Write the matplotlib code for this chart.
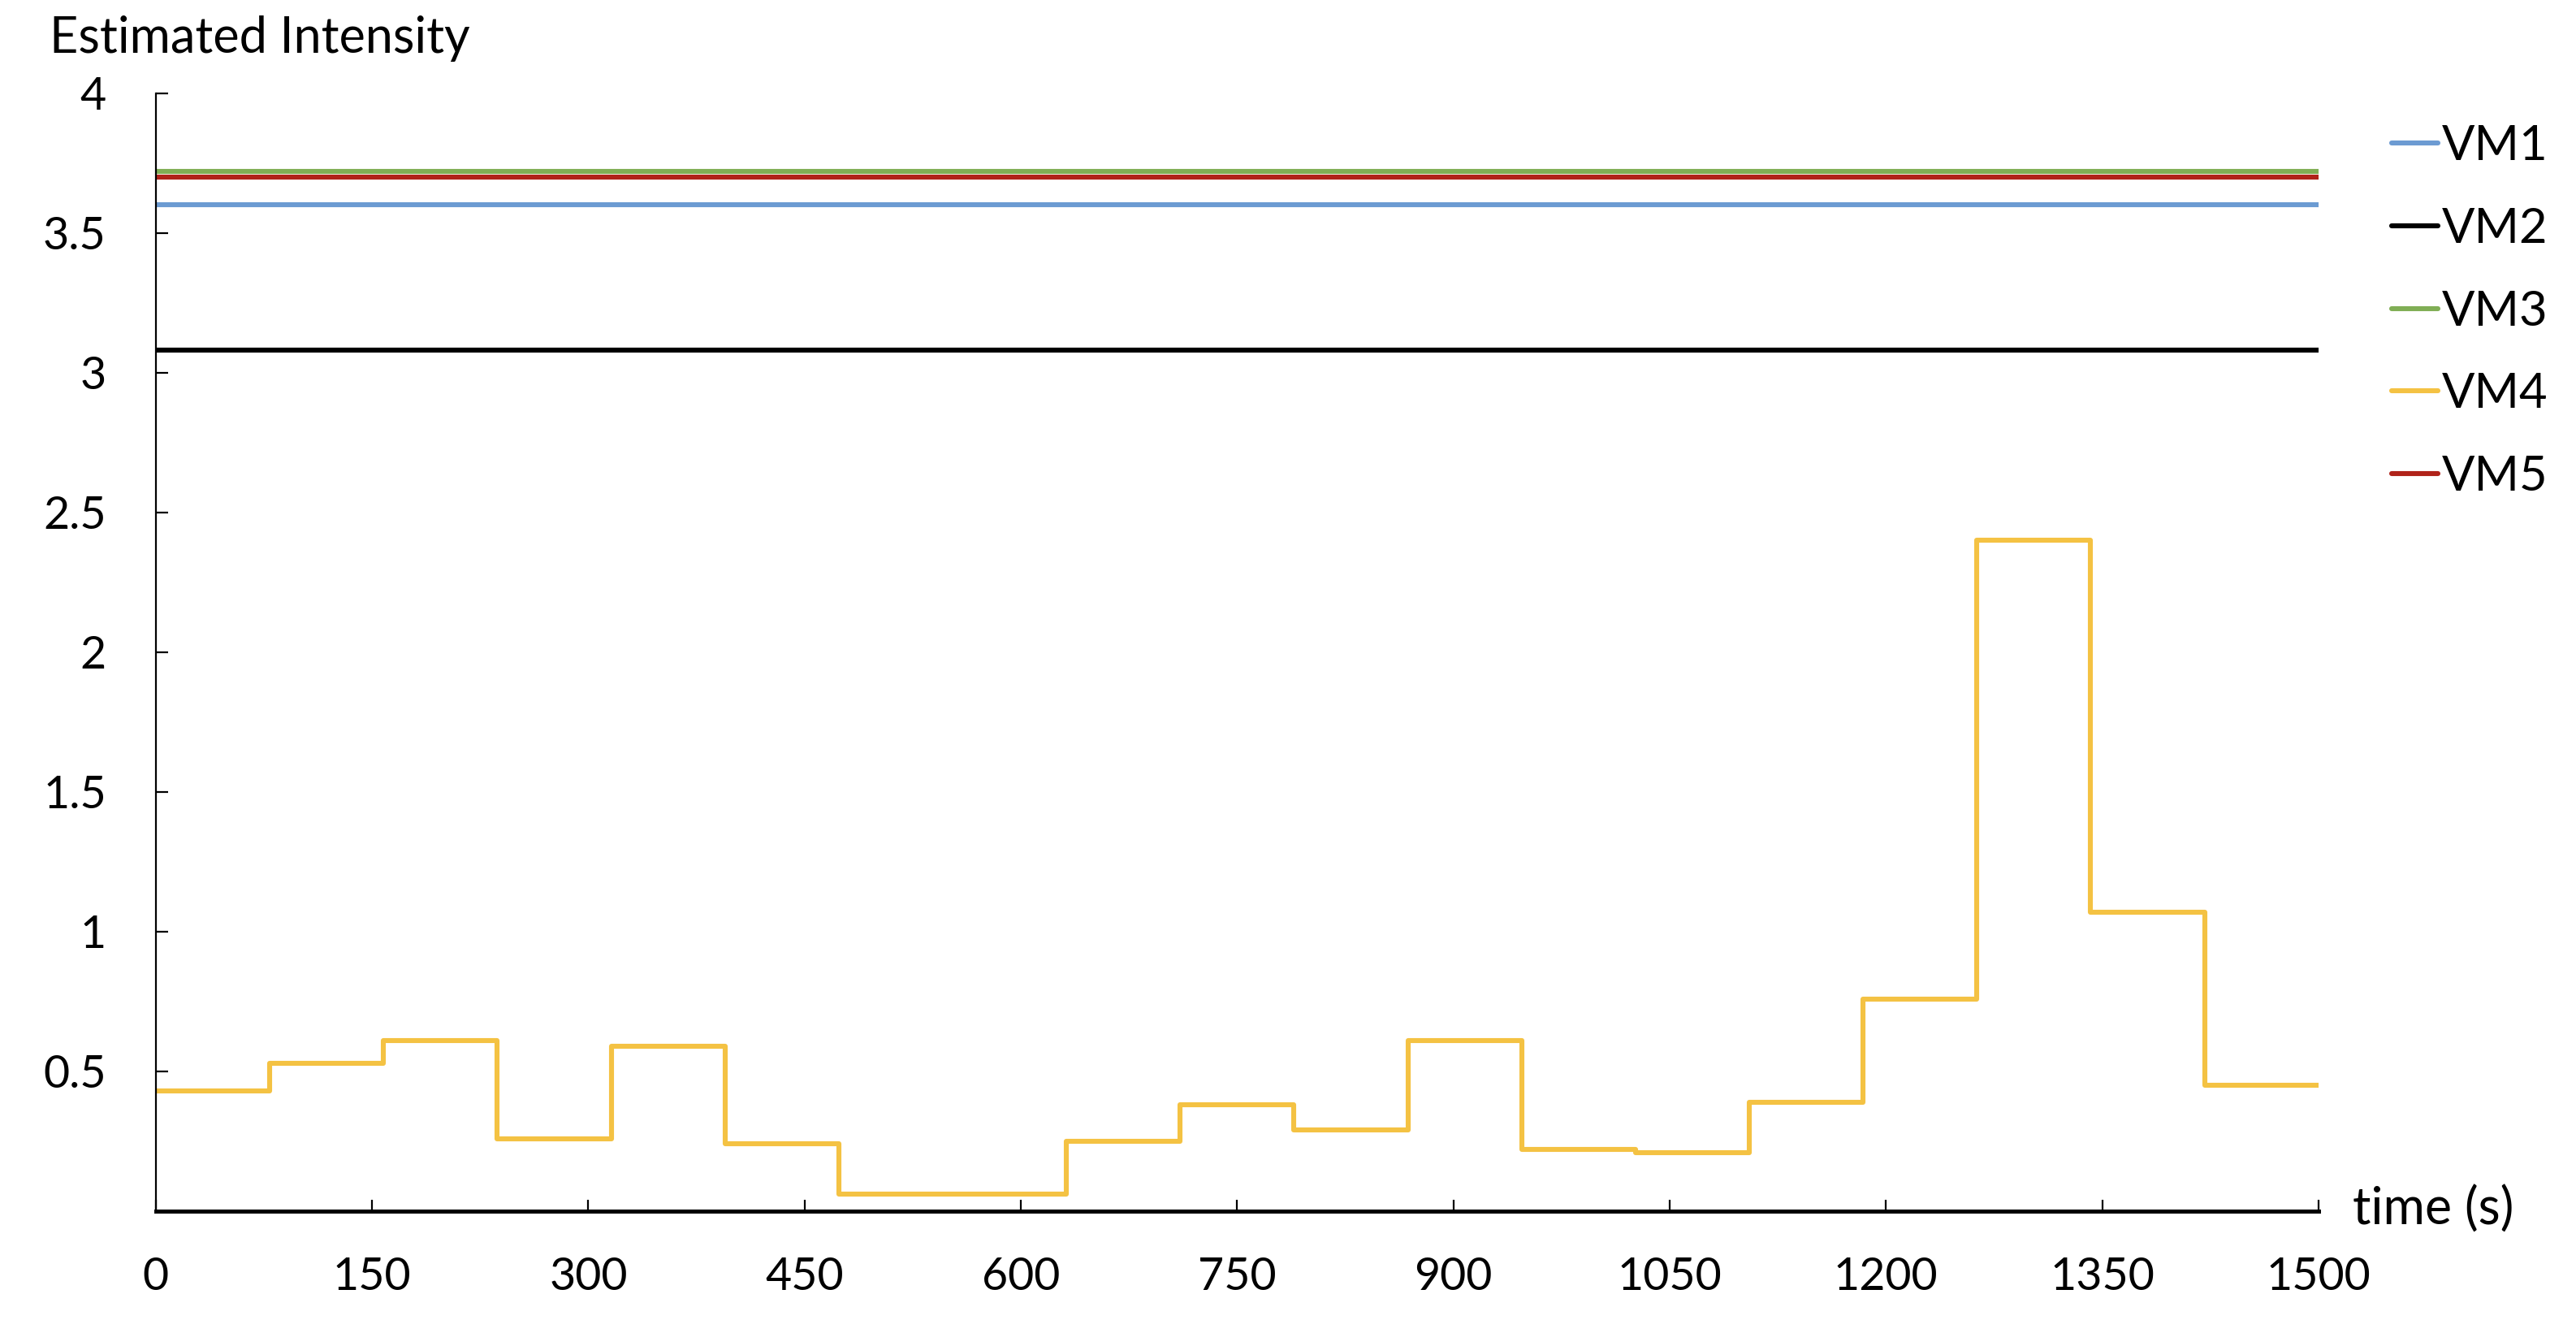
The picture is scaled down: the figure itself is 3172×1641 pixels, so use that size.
# -*- coding: utf-8 -*-
"""Estimated intensity of five VMs over time (VM4 as a step curve)."""

import numpy as np
import matplotlib
matplotlib.use("Agg")
import matplotlib.pyplot as plt

plt.rcParams['font.family'] = ['Lato', 'DejaVu Sans']

# Data
t_end = 1500
vm_names = ['VM1', 'VM2', 'VM3', 'VM4', 'VM5']
vm_colors = ['#6C9BD2', '#000000', '#80AE55', '#F4C243', '#B0231A']
vm1 = 3.60
vm2 = 3.08
vm3 = 3.72
vm5 = 3.70
# VM4: one value per 1500/19 s interval
vm4 = [0.43, 0.53, 0.61, 0.26, 0.59, 0.24, 0.06, 0.06, 0.25, 0.38,
       0.29, 0.61, 0.22, 0.21, 0.39, 0.76, 2.40, 1.07, 0.45]
x_ticks = [0, 150, 300, 450, 600, 750, 900, 1050, 1200, 1350, 1500]
y_ticks = [0.5, 1, 1.5, 2, 2.5, 3, 3.5, 4]

fig = plt.figure(figsize=(15.86, 8.205), dpi=200)
ax = fig.add_axes([0.0605, 0.0914, 0.8395, 0.8386])

lw = 2.2
edges = np.linspace(0, t_end, len(vm4) + 1)
steps = vm4 + [vm4[-1]]

ax.plot([0, t_end], [vm1, vm1], color=vm_colors[0], lw=lw, label=vm_names[0])
ax.plot([0, t_end], [vm2, vm2], color=vm_colors[1], lw=lw, label=vm_names[1])
ax.plot([0, t_end], [vm3, vm3], color=vm_colors[2], lw=lw, label=vm_names[2])
ax.step(edges, steps, where='post', color=vm_colors[3], lw=lw, label=vm_names[3])
ax.plot([0, t_end], [vm5, vm5], color=vm_colors[4], lw=lw, label=vm_names[4])

ax.set_xlim(0, t_end)
ax.set_ylim(0, 4)
ax.set_xticks(x_ticks)
ax.set_xticklabels([str(v) for v in x_ticks])
ax.set_yticks(y_ticks)
ax.set_yticklabels(['%g' % v for v in y_ticks])

for side in ['top', 'right']:
    ax.spines[side].set_visible(False)
ax.spines['left'].set_linewidth(0.8)
ax.spines['bottom'].set_linewidth(1.8)
ax.tick_params(axis='y', direction='in', length=5.5, width=0.8, pad=22, labelsize=20)
ax.tick_params(axis='x', direction='in', length=5, width=0.8, pad=20, labelsize=20)

fig.text(61 / 3172, 1 - 47 / 1641, 'Estimated Intensity', fontsize=22, va='center', ha='left')
fig.text(2897 / 3172, 1 - 1508 / 1641, 'time (s)', fontsize=22.5, va='baseline', ha='left')

leg = ax.legend(loc='upper left', bbox_to_anchor=(2945 / 3172, 1 - 153 / 1641),
                bbox_transform=fig.transFigure, frameon=False, fontsize=21.5,
                handlelength=0.95, handletextpad=0.08, labelspacing=0.8,
                borderaxespad=0, borderpad=0)
for line in leg.get_lines():
    line.set_linewidth(2.2)
    line.set_solid_capstyle('round')

fig.savefig('out.png', dpi=200)
